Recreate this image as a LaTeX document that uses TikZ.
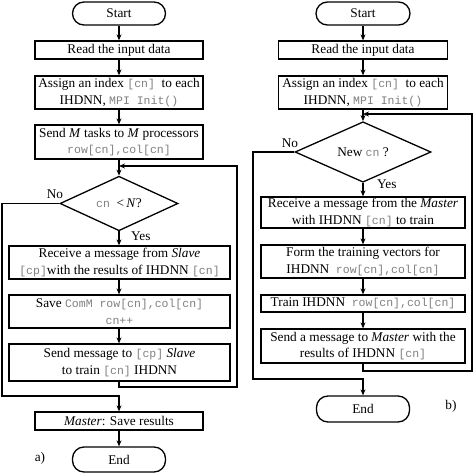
\documentclass[tikz,border=0pt]{standalone}
\usepackage{fontspec}
\setmainfont{Liberation Serif}
\newfontfamily\cmono{Liberation Mono}
\usetikzlibrary{shapes.geometric,arrows.meta}
\definecolor{codegray}{gray}{0.5}
\newcommand{\cd}[1]{{\cmono\fontsize{11.5}{14}\selectfont\color{codegray}#1}}
\begin{document}
\begin{tikzpicture}[x=1pt,y=-1pt,
  every node/.style={font=\fontsize{13.3}{16.5}\selectfont, inner sep=0pt},
  box/.style={draw, line width=1.3pt, align=center},
  term/.style={draw, line width=1.3pt, rounded corners=11.5pt},
  dec/.style={diamond, draw, line width=1.3pt, align=center},
  flow/.style={line width=1.3pt, -{Stealth[length=6pt,width=5pt]}},
  lbl/.style={font=\fontsize{13.3}{16}\selectfont}]
\useasboundingbox (0,0) rectangle (474,474);
% ---------- panel a ----------
\node[term, minimum width=93pt, minimum height=23pt] (as) at (119,13.5) {Start};
\node[box, minimum width=168pt, minimum height=18pt] (ar) at (119,50) {Read the input data};
\node[box, minimum width=168pt, minimum height=33pt] (aa) at (119,92.5) {Assign an index \cd{[cn]}\ \ to each\\IHDNN, \cd{MPI Init()}};
\node[box, minimum width=168pt, minimum height=34pt] (am) at (119,142) {Send \textit{M} tasks to \textit{M} processors\\\cd{row[cn],col[cn]}};
\node[dec, minimum width=118pt, minimum height=51pt] (ad) at (119,203.5) {\cd{cn}\ \ <\,\textit{N}?};
\node[box, minimum width=221pt, minimum height=33pt] (arc) at (119.5,262.5) {Receive a message from \textit{Slave}\\\cd{[cp]}with the results of IHDNN \cd{[cn]}};
\node[box, minimum width=221pt, minimum height=33pt] (asv) at (119.5,311.5) {Save \cd{ComM row[cn],col[cn]}\\\cd{cn++}};
\node[box, minimum width=221pt, minimum height=37pt] (asm) at (119.5,362.5) {Send message to \cd{[cp]} \textit{Slave}\\to train \cd{[cn]} IHDNN};
\node[box, minimum width=168pt, minimum height=18pt] (ams) at (119,421) {\textit{Master}: Save results};
\node[term, minimum width=93pt, minimum height=25pt] (ae) at (119,459.5) {End};
\node[lbl] (ano) at (55,194) {No};
\node[lbl, anchor=west] (ayes) at (131,236) {Yes};
\node[lbl] (alab) at (40,458) {a)};
\coordinate (aj) at (119,166);
\coordinate (ab) at (237,387);
\coordinate (anl) at (2,396);
\draw[flow] (as) -- (ar);
\draw[flow] (ar) -- (aa);
\draw[flow] (aa) -- (am);
\draw[flow] (am) -- (ad);
\draw[flow] (ad.south) -- (ad.south |- arc.north);
\draw[flow] (arc.south -| ad.south) -- (asv.north -| ad.south);
\draw[flow] (asv.south -| ad.south) -- (asm.north -| ad.south);
\draw[flow] (asm.south -| ad.south) |- (ab) |- (aj);
\draw[flow] (ad.west) -| (anl) -| (ams.north);
\draw[flow] (ams) -- (ae);
% ---------- panel b ----------
\node[term, minimum width=94pt, minimum height=23pt] (bs) at (363,13.5) {Start};
\node[box, minimum width=169pt, minimum height=18pt] (br) at (363,50) {Read the input data};
\node[box, minimum width=169pt, minimum height=33pt] (ba) at (363,92.5) {Assign an index \cd{[cn]}\ \ to each\\IHDNN, \cd{MPI Init()}};
\node[dec, minimum width=136pt, minimum height=52pt] (bd) at (363,152) {New \cd{cn} ?};
\node[box, minimum width=204pt, minimum height=31pt] (brc) at (363,212.5) {Receive a message from the \textit{Master}\\with IHDNN \cd{[cn]} to train};
\node[box, minimum width=204pt, minimum height=33pt] (bf) at (363,261.5) {Form the training vectors for\\IHDNN\ \ \cd{row[cn],col[cn]}};
\node[box, minimum width=204pt, minimum height=17pt] (bt) at (363,303.5) {Train IHDNN\ \ \cd{row[cn],col[cn]}};
\node[box, minimum width=204pt, minimum height=34pt] (bsd) at (363,346) {Send a message to \textit{Master} with the\\results of IHDNN \cd{[cn]}};
\node[term, minimum width=93pt, minimum height=26pt] (be) at (363,409) {End};
\node[lbl] (bno) at (290,143) {No};
\node[lbl, anchor=west] (byes) at (377,184) {Yes};
\node[lbl] (blab) at (451,406) {b)};
\coordinate (bj) at (363,114);
\coordinate (bb) at (472,371);
\coordinate (bnl) at (253,379);
\draw[flow] (bs) -- (br);
\draw[flow] (br) -- (ba);
\draw[flow] (ba) -- (bd);
\draw[flow] (bd) -- (brc);
\draw[flow] (brc) -- (bf);
\draw[flow] (bf) -- (bt);
\draw[flow] (bt) -- (bsd);
\draw[flow] (bsd.south) |- (bb) |- (bj);
\draw[flow] (bd.west) -| (bnl) -| (be.north);
\end{tikzpicture}
\end{document}
